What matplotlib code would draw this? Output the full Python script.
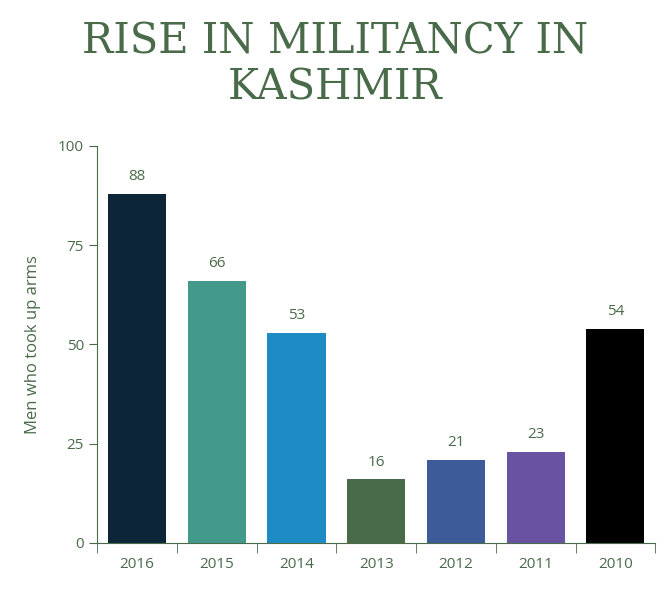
import matplotlib
matplotlib.use("Agg")
import matplotlib.pyplot as plt
import numpy as np

years = ["2016", "2015", "2014", "2013", "2012", "2011", "2010"]
values = [88, 66, 53, 16, 21, 23, 54]
colors = ["#0c2538", "#439a8a", "#1f8bc4", "#4a6b4a", "#3d5a99", "#6a52a3", "#000000"]
yticks = [0, 25, 50, 75, 100]

green = "#4a6b4a"
plt.rcParams["font.family"] = "Open Sans"

fig = plt.figure(figsize=(6.7, 5.99), dpi=100)
ax = fig.add_axes([0.145, 0.0935, 0.833, 0.6628])
x = np.arange(len(years))
ax.bar(x, values, width=0.73, color=colors)
for xi, v in zip(x, values):
    ax.text(xi, v + 2.5, str(v), ha="center", va="bottom", color=green, fontsize=11)

ax.set_xlim(-0.5, len(years) - 0.5)
ax.set_ylim(0, 100)
ax.set_yticks(yticks)
ax.set_xticks(x)
ax.set_xticklabels(years)
ax.set_xticks(np.arange(-0.5, len(years)), minor=True)
ax.tick_params(axis="x", which="major", length=0, pad=10, labelsize=11, labelcolor=green)
ax.tick_params(axis="x", which="minor", length=7, color=green)
ax.tick_params(axis="y", length=6, color=green, labelsize=11, labelcolor=green)
for s in ["top", "right"]:
    ax.spines[s].set_visible(False)
ax.spines["left"].set_color(green)
ax.spines["bottom"].set_color(green)
ax.set_ylabel("Men who took up arms", color=green, fontsize=12, labelpad=12)

fig.text(0.5, 0.965, "RISE IN MILITANCY IN\nKASHMIR", ha="center", va="top",
         color=green, fontsize=30, fontfamily="DejaVu Serif", linespacing=1.1)

fig.savefig("out.png", dpi=100)
